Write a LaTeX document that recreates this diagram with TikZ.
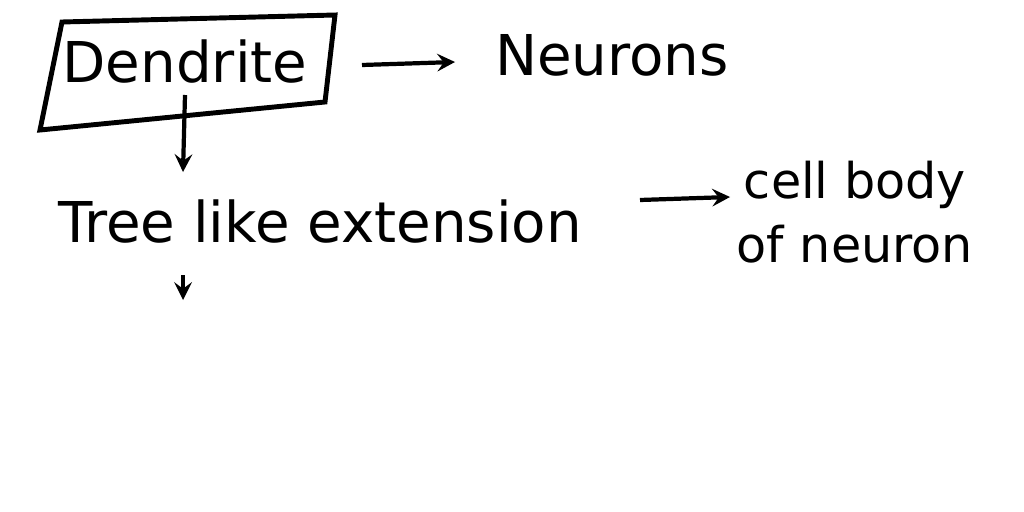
\documentclass[tikz,border=0pt]{standalone}
\usepackage{fontspec}
\setmainfont{DejaVu Sans}
\begin{document}
\begin{tikzpicture}[x=0.01cm,y=-0.01cm,
  lbl/.style={font=\fontsize{16}{20}\selectfont, inner sep=0pt},
  sml/.style={font=\fontsize{14}{18}\selectfont, inner sep=0pt},
  arr/.style={->, line width=1.2pt, >=stealth},
  box/.style={line width=1.4pt}]
\useasboundingbox (0,0) rectangle (1024,512);
\node[lbl] (den) at (185,62) {Dendrite};
\draw[box] (62,22) -- (335,15) -- (325,102) -- (40,130) -- cycle;
\node[lbl] (neu) at (612,55) {Neurons};
\node[lbl] (tree) at (320,222) {Tree like extension};
\node[sml, align=center] (cell) at (855,212) {cell body\\of neuron};
\coordinate (d1) at (185,95);
\coordinate (d2) at (183,172);
\coordinate (e1) at (183,275);
\coordinate (e2) at (183,300);
\draw[arr] (362,65) -- (455,62);
\draw[arr] (d1) -- (d2);
\draw[arr] (640,200) -- (730,197);
\draw[arr] (e1) -- (e2);
\end{tikzpicture}
\end{document}
